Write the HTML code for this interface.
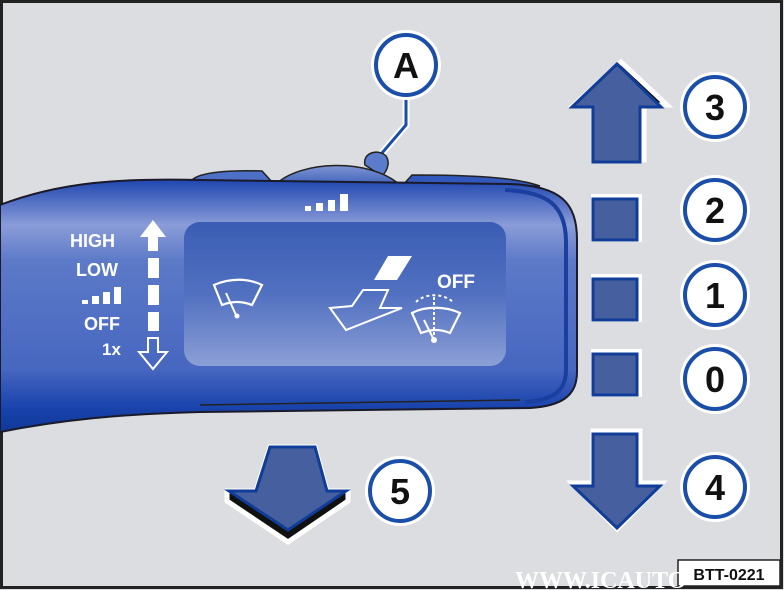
<!DOCTYPE html>
<html><head><meta charset="utf-8"><style>
html,body{margin:0;padding:0;background:#dcdde0}
svg{display:block}
text{font-family:"Liberation Sans",sans-serif;font-weight:bold}
</style></head><body>
<svg width="784" height="590" viewBox="0 0 784 590" xmlns="http://www.w3.org/2000/svg">
<defs>
<linearGradient id="body" x1="0" y1="0" x2="0" y2="1">
<stop offset="0" stop-color="#1f46b0"/>
<stop offset="0.18" stop-color="#8a9cd8"/>
<stop offset="0.32" stop-color="#5d7ac8"/>
<stop offset="0.75" stop-color="#4767c0"/>
<stop offset="0.9" stop-color="#1a44ad"/>
<stop offset="1" stop-color="#0f3898"/>
</linearGradient>
<linearGradient id="panel" x1="0" y1="0" x2="0" y2="1">
<stop offset="0" stop-color="#3a5db4"/>
<stop offset="0.5" stop-color="#5170c0"/>
<stop offset="1" stop-color="#8c9fd6"/>
</linearGradient>
<linearGradient id="dome" x1="0" y1="0" x2="0" y2="1">
<stop offset="0" stop-color="#7f94d2"/>
<stop offset="1" stop-color="#3f62bc"/>
</linearGradient>
</defs>
<rect x="0" y="0" width="784" height="590" fill="#dcdde0"/>
<rect x="1.5" y="1.5" width="780" height="586" fill="none" stroke="#222" stroke-width="3"/>

<polyline points="406,95 406,125 376,160" fill="none" stroke="#fff" stroke-width="7"/>
<polyline points="406,95 406,125 376,160" fill="none" stroke="#1a4ea8" stroke-width="3"/>
<path d="M192,180 C200,172 230,170 262,171 L272,182 Z" fill="#4d6fc6" stroke="#222" stroke-width="1.5"/>
<path d="M402,186 L412,175 C470,175 515,177 540,186 Z" fill="#3358bb" stroke="#222" stroke-width="1.5"/>
<path d="M365,165 C362,153 378,148 386,156 C390,162 388,170 382,176 Z" fill="#5b7bcc" stroke="#222" stroke-width="1.5"/>
<path d="M275,185 C300,160 370,158 400,185 Z" fill="url(#dome)" stroke="#222" stroke-width="1.5"/>
<path d="M0,205 C60,182 120,178 200,180 L510,184 C560,186 577,202 577,240 L577,372 C577,397 560,406 530,408 L200,412 C120,414 60,420 0,432 Z" fill="url(#body)" stroke="#1a1a2a" stroke-width="2"/>
<path d="M505,190 C548,192 565,205 566,240 L566,370 C566,392 552,400 525,402" fill="none" stroke="#1a3f9e" stroke-width="4"/>
<path d="M200,405 L520,400" stroke="#222" stroke-width="1.5" fill="none"/>
<rect x="184" y="222" width="322" height="144" rx="16" fill="url(#panel)"/>
<g fill="#fff"><rect x="305" y="206" width="6" height="5"/><rect x="316" y="203" width="7" height="8"/><rect x="328" y="200" width="7" height="11"/><rect x="340" y="194" width="8" height="17"/></g>
<g fill="#fff" font-size="18">
<text x="70" y="247">HIGH</text>
<text x="76" y="276">LOW</text>
<text x="84" y="330">OFF</text>
<text x="102" y="355" font-size="17">1x</text>
</g>
<g fill="#fff"><rect x="82" y="300" width="6" height="4"/><rect x="92" y="296" width="7" height="8"/><rect x="103" y="292" width="7" height="12"/><rect x="114" y="287" width="7" height="17"/></g>
<path d="M153,220 L166,237 L158,237 L158,251 L148,251 L148,237 L140,237 Z" fill="#fff"/>
<g fill="#fff"><rect x="148" y="258" width="11" height="20"/><rect x="148" y="285" width="11" height="20"/><rect x="148" y="312" width="11" height="19"/></g>
<path d="M148,338 L158,338 L158,352 L167,352 L153,369 L139,352 L148,352 Z" fill="none" stroke="#fff" stroke-width="2"/>
<path d="M214,285 C230,278 248,278 262,285 L252,305 C242,301 232,301 222,305 Z" fill="none" stroke="#fff" stroke-width="2.2"/>
<path d="M226,293 L236,315" stroke="#fff" stroke-width="2"/><circle cx="237" cy="316" r="2.5" fill="#fff"/>
<path d="M374,280 L388,256 L412,256 L397,280 Z" fill="#fff"/>
<path d="M363,290 L388,290 L380,308 L402,308 L346,330 L330,308 L352,306 Z" fill="none" stroke="#fff" stroke-width="2"/>
<text x="437" y="288" fill="#fff" font-size="19">OFF</text>
<path d="M412,313 C425,306 445,306 460,313 L450,333 C440,329 432,329 421,333 Z" fill="none" stroke="#fff" stroke-width="2.2"/>
<path d="M424,320 L433,338" stroke="#fff" stroke-width="2"/><circle cx="434" cy="340" r="3" fill="#fff"/>
<path d="M434,297 L434,336" stroke="#fff" stroke-width="2" stroke-dasharray="3,2"/>
<path d="M416,302 C425,293 443,293 453,302" fill="none" stroke="#fff" stroke-width="2" stroke-dasharray="3,3"/>

<g font-size="36" text-anchor="middle" fill="#111">
<g><circle cx="406" cy="65" r="35" fill="#fff"/><circle cx="406" cy="65" r="30" fill="#fff" stroke="#1a4ea8" stroke-width="4"/><text x="406" y="78">A</text></g>
<g><circle cx="715" cy="107" r="35" fill="#fff"/><circle cx="715" cy="107" r="30" fill="#fff" stroke="#1a4ea8" stroke-width="4"/><text x="715" y="120">3</text></g>
<g><circle cx="715" cy="210" r="35" fill="#fff"/><circle cx="715" cy="210" r="30" fill="#fff" stroke="#1a4ea8" stroke-width="4"/><text x="715" y="223">2</text></g>
<g><circle cx="715" cy="295" r="35" fill="#fff"/><circle cx="715" cy="295" r="30" fill="#fff" stroke="#1a4ea8" stroke-width="4"/><text x="715" y="308">1</text></g>
<g><circle cx="715" cy="379" r="35" fill="#fff"/><circle cx="715" cy="379" r="30" fill="#fff" stroke="#1a4ea8" stroke-width="4"/><text x="715" y="392">0</text></g>
<g><circle cx="715" cy="487" r="35" fill="#fff"/><circle cx="715" cy="487" r="30" fill="#fff" stroke="#1a4ea8" stroke-width="4"/><text x="715" y="500">4</text></g>
<g><circle cx="400" cy="491" r="35" fill="#fff"/><circle cx="400" cy="491" r="30" fill="#fff" stroke="#1a4ea8" stroke-width="4"/><text x="400" y="504">5</text></g>
</g>

<g stroke-linejoin="miter">
<path d="M621,62 L667,105 L644,105 L644,160 L597,160 L597,105 L574,105 Z" fill="#111" stroke="#fff" stroke-width="5"/>
<path d="M617,64 L661,107 L640,107 L640,162 L593,162 L593,107 L572,107 Z" fill="#465f9e" stroke="#103d98" stroke-width="3"/>
<rect x="593" y="196" width="47" height="44" fill="#111" stroke="#fff" stroke-width="4"/>
<rect x="593" y="199" width="44" height="41" fill="#465f9e" stroke="#103d98" stroke-width="3"/>
<rect x="593" y="276" width="47" height="44" fill="#111" stroke="#fff" stroke-width="4"/>
<rect x="593" y="279" width="44" height="41" fill="#465f9e" stroke="#103d98" stroke-width="3"/>
<rect x="593" y="351" width="47" height="44" fill="#111" stroke="#fff" stroke-width="4"/>
<rect x="593" y="354" width="44" height="41" fill="#465f9e" stroke="#103d98" stroke-width="3"/>
<path d="M593,431 L640,431 L640,483 L662,483 L617,529 L572,483 L593,483 Z" fill="#111" stroke="#fff" stroke-width="5"/>
<path d="M593,434 L637,434 L637,486 L660,486 L617,528 L573,486 L593,486 Z" fill="#465f9e" stroke="#103d98" stroke-width="3"/>
<path d="M270,447 L315,447 L327,491 L348,491 L348,501 L288,542 L227,501 L227,491 L256,491 Z" fill="#111" stroke="#fff" stroke-width="5"/>
<path d="M270,447 L315,447 L327,491 L346,491 L288,530 L229,491 L256,491 Z" fill="#465f9e" stroke="#103d98" stroke-width="3"/>
</g>

<rect x="678" y="560" width="102" height="26" fill="#fff" stroke="#222" stroke-width="1.5"/>
<text x="729" y="580" text-anchor="middle" font-size="16" fill="#111">BTT-0221</text>
<text x="515" y="588" font-size="24" fill="#fff" style="font-family:'Liberation Serif',serif;font-weight:bold">WWW.ICAUTO</text>
</svg>
</body></html>
